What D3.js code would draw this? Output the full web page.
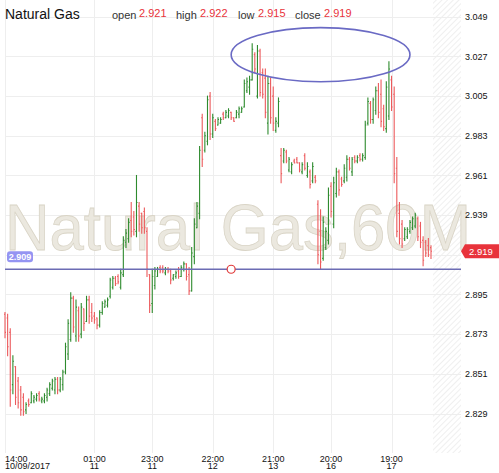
<!DOCTYPE html>
<html>
<head>
<meta charset="utf-8">
<script src="https://cdn.jsdelivr.net/npm/d3@7"></script>
<style>
  body { margin: 0; background: #fff; }
  svg { display: block; font-family: "Liberation Sans", Arial, sans-serif; }
</style>
</head>
<body>
<svg id="chart" width="499" height="473"></svg>
<script>
// ---- data (hourly bars) ----
const symbol = "Natural Gas";
const watermark = "Natural Gas,60M";

const opens = [2.884,2.882,2.874,2.845,2.855,2.847,2.842,2.838,2.831,2.836,2.835,2.836,2.837,2.840,2.836,2.836,2.838,2.840,2.843,2.842,
  2.848,2.842,2.845,2.852,2.862,2.870,2.893,2.872,2.886,2.873,2.887,2.880,2.892,2.885,2.883,2.882,2.878,2.885,2.888,2.889,
  2.894,2.899,2.904,2.905,2.899,2.906,2.924,2.926,2.936,2.938,2.930,2.944,2.940,2.941,2.930,2.906,2.890,2.900,2.905,2.910,
  2.910,2.907,2.909,2.908,2.904,2.905,2.908,2.905,2.909,2.912,2.906,2.897,2.916,2.932,2.940,2.993,2.975,2.980,3.005,2.984,
  2.991,2.989,2.990,2.995,2.993,2.994,2.996,2.993,2.993,2.995,2.996,2.999,3.008,3.010,3.014,3.028,3.005,3.030,3.018,3.015,
  2.990,3.012,3.005,2.986,2.990,2.972,2.969,2.974,2.964,2.963,2.969,2.970,2.968,2.963,2.972,2.961,2.963,2.958,2.960,2.945,
  2.930,2.915,2.921,2.925,2.955,2.934,2.951,2.963,2.959,2.958,2.960,2.970,2.963,2.971,2.969,2.972,2.970,2.971,2.990,3.001,
  2.992,2.997,3.008,3.006,2.998,2.987,2.994,3.014,3.006,2.965,2.940,2.934,2.926,2.927,2.930,2.932,2.933,2.937,2.933,2.925,
  2.924,2.922,2.921];
const highs = [2.885,2.884,2.876,2.861,2.855,2.849,2.844,2.840,2.835,2.837,2.841,2.839,2.840,2.841,2.838,2.840,2.843,2.846,2.848,2.849,
  2.849,2.849,2.853,2.868,2.881,2.896,2.894,2.892,2.888,2.890,2.887,2.894,2.894,2.890,2.885,2.882,2.886,2.891,2.892,2.893,
  2.904,2.905,2.905,2.906,2.909,2.927,2.931,2.937,2.946,2.941,2.961,2.946,2.940,2.943,2.932,2.906,2.909,2.910,2.910,2.911,
  2.911,2.910,2.910,2.909,2.906,2.908,2.910,2.911,2.913,2.912,2.910,2.921,2.937,2.946,2.977,2.995,2.985,3.005,3.007,2.995,
  2.992,2.993,2.993,2.996,2.997,2.998,2.996,2.993,2.997,2.999,2.999,3.014,3.015,3.016,3.034,3.029,3.033,3.031,3.020,3.020,
  3.016,3.015,3.010,2.993,3.004,2.976,2.976,2.975,2.971,2.968,2.970,2.971,2.968,2.968,2.973,2.968,2.964,2.968,2.961,2.947,
  2.942,2.938,2.932,2.954,2.957,2.960,2.965,2.964,2.960,2.967,2.972,2.971,2.971,2.972,2.972,2.973,2.973,2.991,3.004,3.002,
  3.004,3.010,3.012,3.014,3.000,3.013,3.024,3.016,3.010,2.971,2.946,2.936,2.932,2.932,2.936,2.938,2.940,2.938,2.935,2.927,
  2.925,2.926,2.922];
const lows = [2.871,2.861,2.833,2.840,2.834,2.832,2.828,2.828,2.829,2.833,2.835,2.835,2.836,2.836,2.835,2.835,2.836,2.839,2.842,2.840,
  2.840,2.841,2.842,2.851,2.859,2.869,2.874,2.869,2.869,2.871,2.875,2.880,2.879,2.880,2.879,2.876,2.877,2.884,2.888,2.888,
  2.893,2.898,2.900,2.901,2.898,2.905,2.921,2.924,2.927,2.928,2.927,2.930,2.929,2.929,2.905,2.885,2.885,2.898,2.905,2.907,
  2.907,2.906,2.907,2.901,2.903,2.904,2.904,2.905,2.908,2.903,2.895,2.897,2.912,2.932,2.937,2.966,2.974,2.978,2.981,2.982,
  2.986,2.989,2.990,2.992,2.993,2.993,2.992,2.991,2.993,2.993,2.996,2.999,3.007,3.006,3.014,3.018,3.004,3.005,3.004,2.993,
  2.984,2.990,2.986,2.985,2.988,2.957,2.968,2.968,2.963,2.962,2.968,2.968,2.963,2.962,2.964,2.960,2.954,2.957,2.957,2.912,
  2.909,2.914,2.920,2.923,2.938,2.932,2.949,2.950,2.955,2.957,2.958,2.964,2.961,2.968,2.968,2.969,2.969,2.970,2.989,2.990,
  2.990,2.995,2.993,2.988,2.986,2.985,2.992,2.997,2.957,2.927,2.923,2.921,2.925,2.926,2.929,2.931,2.932,2.925,2.921,2.911,
  2.916,2.916,2.915];
const closes = [2.874,2.866,2.842,2.858,2.838,2.835,2.831,2.830,2.834,2.834,2.840,2.838,2.839,2.837,2.837,2.839,2.842,2.845,2.847,2.848,
  2.842,2.848,2.852,2.866,2.879,2.893,2.877,2.888,2.872,2.888,2.879,2.892,2.883,2.882,2.881,2.878,2.885,2.890,2.891,2.892,
  2.903,2.904,2.901,2.902,2.907,2.925,2.929,2.935,2.930,2.931,2.946,2.934,2.932,2.932,2.909,2.889,2.905,2.908,2.909,2.908,
  2.908,2.909,2.908,2.903,2.906,2.907,2.905,2.910,2.912,2.905,2.897,2.918,2.934,2.944,2.975,2.970,2.983,3.003,2.984,2.993,
  2.987,2.992,2.992,2.993,2.996,2.997,2.993,2.991,2.996,2.998,2.998,3.012,3.013,3.014,3.031,3.020,3.030,3.007,3.006,2.996,
  3.012,2.993,2.990,2.991,3.002,2.962,2.975,2.969,2.970,2.967,2.968,2.968,2.964,2.967,2.965,2.966,2.956,2.966,2.958,2.917,
  2.913,2.935,2.930,2.950,2.941,2.957,2.963,2.953,2.956,2.965,2.970,2.965,2.970,2.969,2.971,2.970,2.972,2.989,3.002,2.992,
  3.003,3.008,2.996,2.991,2.988,3.010,3.020,2.999,2.962,2.930,2.926,2.923,2.931,2.931,2.935,2.937,2.939,2.927,2.924,2.914,
  2.918,2.917,2.919];

// axis ticks and labels (2.917 sits under the last-price tag, so it has a grid line but no label)
const priceTicks = [2.829, 2.851, 2.873, 2.895, 2.917, 2.939, 2.961, 2.983, 3.005, 3.027, 3.049];
const hiddenTick = 2.917;
const timeTickIdx = [0, 34, 56, 79, 102, 124, 147];
const timeLabels = ["14:00", "01:00", "23:00", "22:00", "21:00", "20:00", "19:00"];
const dateLabels = ["10/09/2017", "11", "11", "12", "13", "16", "17"];

// annotations
const hLinePrice = 2.909;
const markerIdx = 86;
const ellipseIdx = [86, 154];
const ellipsePrice = [3.043, 3.013];

const bars = opens.map((o, i) => ({ i, o, h: highs[i], l: lows[i], c: closes[i] }));
const last = bars[bars.length - 1];

// ---- layout ----
const svg = d3.select("#chart");
const plotLeft = 5, plotRight = 461, plotTop = 0, plotBottom = 453;
const green = "#2e8b2e", red = "#ec5a5c";

const x = d3.scaleLinear().domain([0, bars.length - 1]).range([5, 431]);
const y = d3.scaleLinear().domain([2.8071, 3.0583]).range([plotBottom, plotTop]);

// hatch for the empty right part
const defs = svg.append("defs");
defs.append("pattern")
    .attr("id", "hatch")
    .attr("width", 4).attr("height", 4)
    .attr("patternUnits", "userSpaceOnUse")
    .attr("patternTransform", "rotate(45)")
    .append("line")
    .attr("x1", 0).attr("y1", 0).attr("x2", 0).attr("y2", 4)
    .attr("stroke", "#e4e4e4").attr("stroke-width", 1.2);

svg.append("rect")
    .attr("x", x(bars.length - 1) + 2).attr("y", plotTop)
    .attr("width", plotRight - x(bars.length - 1) - 2).attr("height", plotBottom - plotTop)
    .attr("fill", "url(#hatch)");

// grid
const grid = svg.append("g").attr("stroke", "#eeeeee").attr("stroke-width", 1);
grid.selectAll("line.h")
    .data(priceTicks)
    .join("line")
    .attr("class", "h")
    .attr("x1", plotLeft).attr("x2", plotRight)
    .attr("y1", d => Math.round(y(d)) + 0.5).attr("y2", d => Math.round(y(d)) + 0.5);
grid.selectAll("line.v")
    .data(timeTickIdx)
    .join("line")
    .attr("class", "v")
    .attr("x1", d => Math.round(x(d)) + 0.5).attr("x2", d => Math.round(x(d)) + 0.5)
    .attr("y1", plotTop).attr("y2", plotBottom);

// watermark
svg.append("text")
    .attr("x", 5).attr("y", 250)
    .attr("font-size", 64)
    .attr("textLength", 466)
    .attr("lengthAdjust", "spacingAndGlyphs")
    .attr("fill", "#ebe8df")
    .attr("stroke", "#d9d4c6")
    .attr("stroke-width", 0.8)
    .text(watermark);

// OHLC bars
const barG = svg.append("g");
const bar = barG.selectAll("g")
    .data(bars)
    .join("g")
    .attr("stroke", d => d.c >= d.o ? green : red)
    .attr("stroke-width", 1.1);
bar.append("line")
    .attr("x1", d => x(d.i)).attr("x2", d => x(d.i))
    .attr("y1", d => y(d.h) - 0.5).attr("y2", d => y(d.l) + 0.5);
bar.append("line")
    .attr("x1", d => x(d.i) - 1).attr("x2", d => x(d.i))
    .attr("y1", d => y(d.o)).attr("y2", d => y(d.o));
bar.append("line")
    .attr("x1", d => x(d.i)).attr("x2", d => x(d.i) + 1)
    .attr("y1", d => y(d.c)).attr("y2", d => y(d.c));

// horizontal level line + marker
svg.append("line")
    .attr("x1", plotLeft).attr("x2", plotRight)
    .attr("y1", y(hLinePrice)).attr("y2", y(hLinePrice))
    .attr("stroke", "#6c6cb4").attr("stroke-width", 1.6);

svg.append("circle")
    .attr("cx", x(markerIdx)).attr("cy", y(hLinePrice)).attr("r", 4)
    .attr("fill", "#fff").attr("stroke", "#e03a3a").attr("stroke-width", 1.2);

const lvl = svg.append("g").attr("transform", `translate(7, ${y(hLinePrice) - 18})`);
lvl.append("rect").attr("width", 26).attr("height", 11).attr("rx", 3).attr("fill", "#9494f2");
lvl.append("text").attr("x", 13).attr("y", 8.5).attr("text-anchor", "middle")
    .attr("font-size", 9).attr("font-weight", "bold").attr("fill", "#fff").text(d3.format(".3f")(hLinePrice));

// ellipse annotation
svg.append("ellipse")
    .attr("cx", (x(ellipseIdx[0]) + x(ellipseIdx[1])) / 2)
    .attr("cy", (y(ellipsePrice[0]) + y(ellipsePrice[1])) / 2)
    .attr("rx", (x(ellipseIdx[1]) - x(ellipseIdx[0])) / 2)
    .attr("ry", (y(ellipsePrice[1]) - y(ellipsePrice[0])) / 2)
    .attr("fill", "none").attr("stroke", "#6a6ac4").attr("stroke-width", 1.6);

// price axis labels
svg.append("g").selectAll("text")
    .data(priceTicks.filter(d => d !== hiddenTick))
    .join("text")
    .attr("x", 465).attr("y", d => y(d)).attr("dy", "0.35em")
    .attr("font-size", 9).attr("fill", "#111")
    .text(d => d3.format(".3f")(d));

// last price tag
const ly = y(last.c);
svg.append("path")
    .attr("d", `M461,${ly} L465,${ly - 7} L499,${ly - 7} L499,${ly + 7} L465,${ly + 7} Z`)
    .attr("fill", "#e8333b");
svg.append("text")
    .attr("x", 469).attr("y", ly).attr("dy", "0.35em")
    .attr("font-size", 9.5).attr("fill", "#fff")
    .text(d3.format(".3f")(last.c));

// time axis labels
const tl = svg.append("g").selectAll("g")
    .data(timeTickIdx)
    .join("g")
    .attr("transform", (d, i) => `translate(${i === 0 ? 5 : x(d)}, 0)`)
    .attr("text-anchor", (d, i) => i === 0 ? "start" : "middle")
    .attr("font-size", 9).attr("fill", "#111");
tl.append("text").attr("y", 462).text((d, i) => timeLabels[i]);
tl.append("text").attr("y", 469).text((d, i) => dateLabels[i]);

// header
svg.append("text").attr("x", 5).attr("y", 19).attr("font-size", 14).attr("fill", "#111").text(symbol);
const header = [["open", last.o, 112, 139], ["high", last.h, 176, 200], ["low", last.l, 238, 258], ["close", last.c, 295, 324]];
const hg = svg.append("g").attr("font-size", 11);
header.forEach(([name, v, lx, vx]) => {
    hg.append("text").attr("x", lx).attr("y", 19).attr("fill", "#333").text(name);
    hg.append("text").attr("x", vx).attr("y", 17).attr("fill", "#e8333b").text(d3.format(".3f")(v));
});
</script>
</body>
</html>
